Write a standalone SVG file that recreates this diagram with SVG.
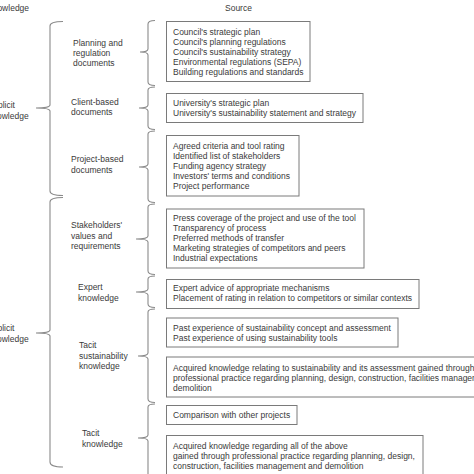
<svg xmlns="http://www.w3.org/2000/svg" width="474" height="474" viewBox="0 0 474 474">
<style>
text{font-family:"Liberation Sans",Arial,sans-serif;font-size:8.5px;fill:#3a3a3a}
.box{fill:#fff;stroke:#7a7a7a;stroke-width:1}
.br{fill:none;stroke:#8a8a8a;stroke-width:1.1}
</style>
<rect x="0" y="0" width="474" height="474" fill="#fff"/>
<g id="headers">
<text x="-13" y="10.5">Knowledge</text>
<text x="225" y="10.5">Source</text>
</g>
<g id="connectors">
<path class="br" d="M63,21.5 Q50,21.5 50,26 L50,105 Q50,108 36,108 Q50,108 50,111 L50,191 Q50,195.5 63,195.5"/>
<path class="br" d="M63,197.5 Q50,197.5 50,202 L50,330 Q50,333 36,333 Q50,333 50,336 L50,462 Q50,467 63,467"/>
<path class="br" d="M155,20.5 Q148,20.5 148,24 L148,49 Q148,52 140,52 Q148,52 148,55 L148,82 Q148,85.5 155,85.5"/>
<path class="br" d="M155,87 Q148,87 148,90 L148,105 Q148,108 139,108 Q148,108 148,111 L148,126 Q148,129.5 155,129.5"/>
<path class="br" d="M155,131 Q148,131 148,134 L148,164 Q148,167 139,167 Q148,167 148,170 L148,199 Q148,202.5 155,202.5"/>
<path class="br" d="M155,204 Q148,204 148,207 L148,236 Q148,239 136,239 Q148,239 148,242 L148,271 Q148,274.5 155,274.5"/>
<path class="br" d="M155,276 Q148,276 148,279 L148,289 Q148,292 136,292 Q148,292 148,295 L148,304 Q148,307.5 155,307.5"/>
<path class="br" d="M155,309 Q148,309 148,312 L148,353 Q148,356 138,356 Q148,356 148,359 L148,399 Q148,402.5 155,402.5"/>
<path class="br" d="M155,404 Q148,404 148,407 L148,435 Q148,438 138,438 Q148,438 148,441 L148,480"/>
</g>
<g id="explicit">
<text x="-12" y="108">Explicit</text>
<text x="-12" y="118.5">knowledge</text>
</g>
<g id="implicit">
<text x="-12" y="331">Implicit</text>
<text x="-12" y="341.5">knowledge</text>
</g>
<g id="planning">
<text x="73" y="45.5">Planning and</text>
<text x="73" y="55.5">regulation</text>
<text x="73" y="65.5">documents</text>
</g>
<g id="client">
<text x="71" y="105">Client-based</text>
<text x="71" y="115">documents</text>
</g>
<g id="project">
<text x="71" y="161.5">Project-based</text>
<text x="71" y="172.5">documents</text>
</g>
<g id="stakeholders">
<text x="71" y="228">Stakeholders'</text>
<text x="71" y="238.5">values and</text>
<text x="71" y="249">requirements</text>
</g>
<g id="expert">
<text x="78" y="290">Expert</text>
<text x="78" y="300.5">knowledge</text>
</g>
<g id="tacit-sustainability">
<text x="79" y="348">Tacit</text>
<text x="79" y="358.5">sustainability</text>
<text x="79" y="369">knowledge</text>
</g>
<g id="tacit">
<text x="82" y="436">Tacit</text>
<text x="82" y="446.5">knowledge</text>
</g>
<g id="src-planning">
<rect class="box" x="166.5" y="21.5" width="143.5" height="60"/>
<text x="173" y="35.3">Council's strategic plan</text>
<text x="173" y="45.3">Council's planning regulations</text>
<text x="173" y="55.3">Council's sustainability strategy</text>
<text x="173" y="65.3">Environmental regulations (SEPA)</text>
<text x="173" y="75.3">Building regulations and standards</text>
</g>
<g id="src-client">
<rect class="box" x="166.5" y="93.5" width="196.5" height="29"/>
<text x="173" y="106.3">University's strategic plan</text>
<text x="173" y="116.3">University's sustainability statement and strategy</text>
</g>
<g id="src-project">
<rect class="box" x="166.5" y="135.5" width="132.5" height="60.5"/>
<text x="173" y="149">Agreed criteria and tool rating</text>
<text x="173" y="159">Identified list of stakeholders</text>
<text x="173" y="169">Funding agency strategy</text>
<text x="173" y="179">Investors' terms and conditions</text>
<text x="173" y="189">Project performance</text>
</g>
<g id="src-stakeholders">
<rect class="box" x="166.5" y="209" width="197.5" height="59"/>
<text x="173" y="221.3">Press coverage of the project and use of the tool</text>
<text x="173" y="231.3">Transparency of process</text>
<text x="173" y="241.3">Preferred methods of transfer</text>
<text x="173" y="251.3">Marketing strategies of competitors and peers</text>
<text x="173" y="261.3">Industrial expectations</text>
</g>
<g id="src-expert">
<rect class="box" x="166.5" y="279.5" width="252.5" height="29"/>
<text x="173" y="291.3">Expert advice of appropriate mechanisms</text>
<text x="173" y="301.3">Placement of rating in relation to competitors or similar contexts</text>
</g>
<g id="src-past">
<rect class="box" x="166.5" y="318" width="231.5" height="29"/>
<text x="173" y="330.5">Past experience of sustainability concept and assessment</text>
<text x="173" y="340.5">Past experience of using sustainability tools</text>
</g>
<g id="src-acquired">
<rect class="box" x="166.5" y="357" width="340" height="40"/>
<text x="173" y="370.5">Acquired knowledge relating to sustainability and its assessment gained through</text>
<text x="173" y="380.5">professional practice regarding planning, design, construction, facilities management and</text>
<text x="173" y="390.5">demolition</text>
</g>
<g id="src-comparison">
<rect class="box" x="166.5" y="405.5" width="130.5" height="19"/>
<text x="173" y="418">Comparison with other projects</text>
</g>
<g id="src-acquired-all">
<rect class="box" x="166.5" y="435.5" width="256.5" height="45"/>
<text x="173" y="449">Acquired knowledge regarding all of the above</text>
<text x="173" y="459">gained through professional practice regarding planning, design,</text>
<text x="173" y="469">construction, facilities management and demolition</text>
</g>
</svg>
